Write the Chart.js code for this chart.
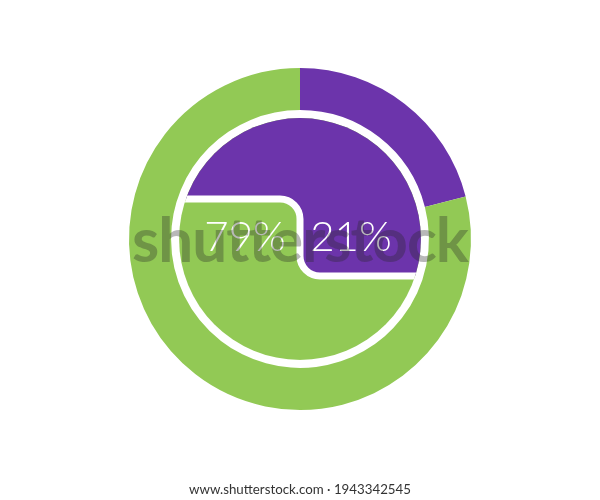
<!DOCTYPE html>
<html>
<head>
<meta charset="utf-8">
<script src="https://cdn.jsdelivr.net/npm/chart.js@4.4.1/dist/chart.umd.min.js"></script>
<style>
  html, body { margin: 0; padding: 0; background: #ffffff; }
  #wrap { width: 600px; height: 500px; position: relative; }
</style>
</head>
<body>
<div id="wrap"><canvas id="donutChart"></canvas></div>
<script>
// valores do grafico
const categorias = ['Roxo', 'Verde'];
const valores = [21, 79];
const cores = ['#6c34ab', '#92c955'];
const rodape = 'www.shutterstock.com \u00b7 1943342545';

// desenha o disco interno com a divisao arredondada e os textos
const discoInterno = {
    id: 'discoInterno',
    afterDatasetsDraw(chart) {
        const arco = chart.getDatasetMeta(0).data[0];
        if (!arco) return;
        const ctx = chart.ctx;
        const cx = arco.x, cy = arco.y;
        const R = arco.innerRadius - 8;
        const k = R / 121;
        const yTopo = cy - 40 * k;
        const yBase = cy + 37 * k;
        const raio = 20 * k;

        ctx.save();
        ctx.beginPath();
        ctx.arc(cx, cy, R, 0, Math.PI * 2);
        ctx.clip();
        ctx.fillStyle = cores[1];
        ctx.fillRect(cx - R, cy - R, R * 2, R * 2);

        // regiao roxa
        ctx.beginPath();
        ctx.moveTo(cx - R - 5, yTopo);
        ctx.lineTo(cx - raio, yTopo);
        ctx.arcTo(cx, yTopo, cx, yTopo + raio, raio);
        ctx.lineTo(cx, yBase - raio);
        ctx.arcTo(cx, yBase, cx + raio, yBase, raio);
        ctx.lineTo(cx + R + 5, yBase);
        ctx.lineTo(cx + R + 5, cy - R - 5);
        ctx.lineTo(cx - R - 5, cy - R - 5);
        ctx.closePath();
        ctx.fillStyle = cores[0];
        ctx.fill();

        // linha branca
        ctx.beginPath();
        ctx.moveTo(cx - R - 5, yTopo);
        ctx.lineTo(cx - raio, yTopo);
        ctx.arcTo(cx, yTopo, cx, yTopo + raio, raio);
        ctx.lineTo(cx, yBase - raio);
        ctx.arcTo(cx, yBase, cx + raio, yBase, raio);
        ctx.lineTo(cx + R + 5, yBase);
        ctx.strokeStyle = '#ffffff';
        ctx.lineWidth = 7;
        ctx.stroke();
        ctx.restore();

        // textos
        ctx.save();
        ctx.fillStyle = '#ffffff';
        ctx.font = '300 42px Lato, "Open Sans", sans-serif';
        ctx.textAlign = 'center';
        ctx.textBaseline = 'alphabetic';
        ctx.fillText(valores[1] + '%', cx - 55 * k, cy + 12 * k);
        ctx.fillText(valores[0] + '%', cx + 51 * k, cy + 12 * k);

        // marca d'agua
        ctx.font = 'bold 62px Lato, "Open Sans", sans-serif';
        if ('letterSpacing' in ctx) ctx.letterSpacing = '-1px';
        ctx.fillStyle = 'rgba(40, 40, 40, 0.33)';
        ctx.fillText('shutterstock', cx, cy + 23 * k);
        if ('letterSpacing' in ctx) ctx.letterSpacing = '0px';

        // rodape
        ctx.font = '13.3px Lato, "Open Sans", sans-serif';
        ctx.fillStyle = '#333333';
        ctx.fillText(rodape, chart.width / 2, 494);
        ctx.restore();
    }
};

document.addEventListener("DOMContentLoaded", function() {
    const ctxDonut = document.getElementById('donutChart').getContext('2d');
    new Chart(ctxDonut, {
        type: 'doughnut',
        data: {
            labels: categorias,
            datasets: [{
                data: valores,
                backgroundColor: cores,
                borderWidth: 0
            }]
        },
        options: {
            responsive: true,
            maintainAspectRatio: false,
            animation: false,
            cutout: '75.4%',
            rotation: 0,
            layout: { padding: { top: 68, bottom: 90 } },
            plugins: {
                legend: { display: false },
                tooltip: { enabled: false }
            }
        },
        plugins: [discoInterno]
    });
});
</script>
</body>
</html>
